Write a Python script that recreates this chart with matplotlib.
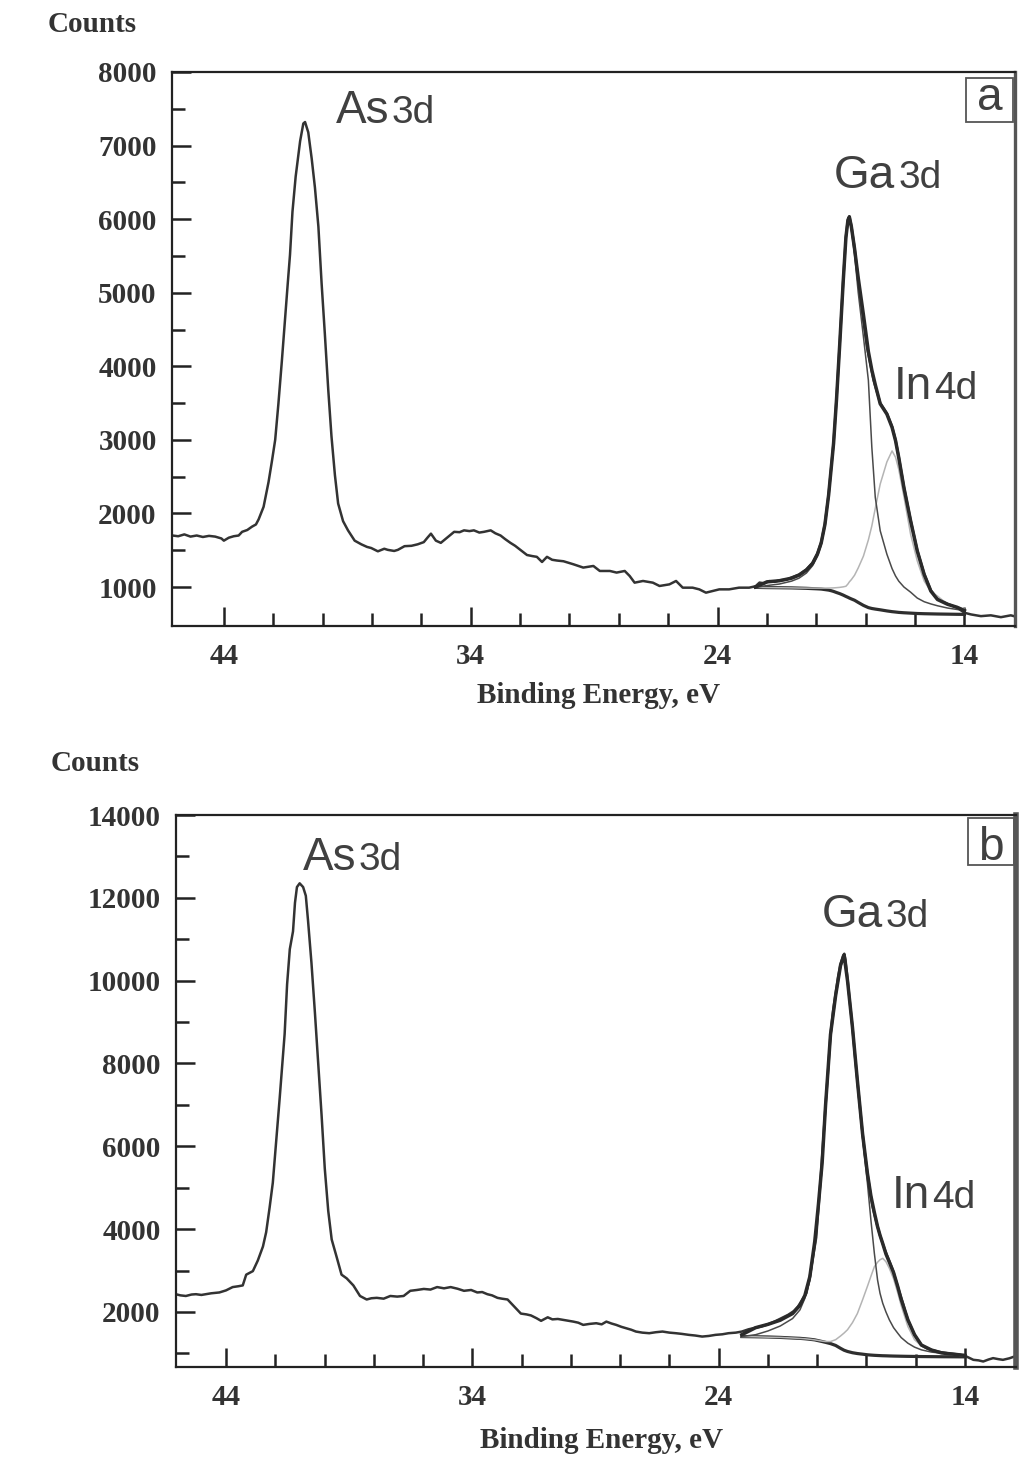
import matplotlib
matplotlib.use("Agg")
import matplotlib.pyplot as plt
from matplotlib.ticker import FixedLocator
from matplotlib.patches import Rectangle

plt.rcParams['font.family'] = ['Liberation Serif', 'DejaVu Serif']
plt.rcParams['font.weight'] = 'bold'

# ---- panel a : measured spectrum (binding energy eV, counts)
a_energy = [46.08, 45.85, 45.6, 45.35, 45.1, 44.85, 44.6, 44.35, 44.1, 44.0, 43.8, 43.6, 43.4, 43.26,
            43.05, 42.86, 42.7, 42.59, 42.39, 42.19, 42.05, 41.92, 41.79, 41.65, 41.52, 41.41, 41.32,
            41.22, 41.09, 40.91, 40.78, 40.71, 40.58, 40.44, 40.31, 40.17, 40.04, 39.91, 39.77, 39.64,
            39.5, 39.37, 39.17, 38.97, 38.7, 38.43, 38.2, 38.03, 37.76, 37.5, 37.36, 37.1, 36.95, 36.68,
            36.4, 36.15, 35.9, 35.74, 35.61, 35.41, 35.21, 34.94, 34.67, 34.45, 34.27, 34.05, 33.87,
            33.65, 33.46, 33.19, 33.0, 32.79, 32.6, 32.39, 32.2, 31.99, 31.72, 31.5, 31.32, 31.11, 30.91,
            30.7, 30.51, 30.24, 29.84, 29.44, 29.03, 28.77, 28.36, 28.09, 27.76, 27.56, 27.36, 27.02,
            26.62, 26.35, 25.95, 25.68, 25.41, 25.01, 24.74, 24.47, 24.2, 23.93, 23.53, 23.13, 22.72,
            22.46, 22.3, 22.1, 21.9, 21.7, 21.5, 21.2, 21.0, 20.7, 20.4, 20.15, 19.95, 19.8, 19.65, 19.5,
            19.4, 19.3, 19.18, 19.05, 18.91, 18.8, 18.72, 18.66, 18.58, 18.45, 18.23, 17.95, 17.68,
            17.41, 17.14, 16.93, 16.79, 16.66, 16.45, 16.18, 15.91, 15.63, 15.36, 15.09, 14.68, 14.3,
            14.0, 13.73, 13.33, 12.93, 12.52, 12.12, 11.95]
a_counts = [1700, 1690, 1715, 1685, 1700, 1680, 1695, 1685, 1660, 1630, 1670, 1690, 1700, 1750,
            1775, 1820, 1850, 1920, 2090, 2425, 2715, 3000, 3490, 4070, 4650, 5130, 5515,
            6100, 6580, 7060, 7300, 7320, 7180, 6820, 6430, 5900, 5130, 4450, 3680, 3050,
            2520, 2135, 1895, 1770, 1630, 1580, 1545, 1530, 1485, 1520, 1505, 1490, 1505, 1555,
            1560, 1580, 1610, 1675, 1725, 1630, 1600, 1675, 1750, 1745, 1770, 1760, 1770,
            1740, 1750, 1770, 1730, 1700, 1650, 1600, 1560, 1505, 1435, 1420, 1410, 1340, 1410,
            1370, 1360, 1350, 1309, 1264, 1286, 1218, 1218, 1196, 1218, 1150, 1059, 1082,
            1059, 1014, 1036, 1082, 991, 991, 968, 923, 945, 968, 968, 991, 991,
            1010, 1060, 1050, 1080, 1070, 1090, 1100, 1130, 1170, 1240, 1330, 1460, 1610, 1860, 2260,
            2610, 2960, 3560, 4310, 5160, 5760, 6000, 6040, 5910, 5610, 4960, 4270, 3810,
            3500, 3360, 3180, 3000, 2770, 2360, 1910, 1500, 1180, 955, 840, 770, 720,
            650, 627, 604, 615, 590, 615, 600]

# panel a : fit curves
a_fit_energy = [22.46, 22.0, 21.5, 21.0, 20.7, 20.4, 20.15, 19.95, 19.8, 19.65, 19.5, 19.4, 19.3,
                19.18, 19.05, 18.91, 18.8, 18.72, 18.66, 18.58, 18.45, 18.3, 18.09, 17.89, 17.75,
                17.61, 17.41, 17.14, 16.93, 16.79, 16.66, 16.45, 16.18, 15.91, 15.63, 15.36, 15.09,
                14.68, 14.3, 14.0]
a_envelope = [1000, 1070, 1085, 1120, 1160, 1230, 1320, 1450, 1600, 1850, 2250, 2600, 2950,
              3550, 4300, 5150, 5750, 5980, 6030, 5900, 5600, 5200, 4700, 4200, 3950,
              3750, 3490, 3350, 3170, 2990, 2760, 2350, 1900, 1490, 1170, 945, 830,
              765, 725, 680]
a_ga = [995, 1020, 1040, 1080, 1120, 1190, 1290, 1420, 1570, 1820, 2220, 2570, 2930,
        3520, 4270, 5120, 5720, 5950, 5990, 5860, 5520, 5000, 4400, 3810, 2900,
        2218, 1764, 1446, 1250, 1150, 1080, 1000, 930, 850, 800, 770, 745,
        714, 695, 680]
a_in = [995, 992, 990, 988, 986, 985, 985, 985, 985, 985, 986, 987, 988,
        991, 995, 1002, 1010, 1040, 1070, 1100, 1160, 1260, 1420, 1640, 1830,
        2070, 2400, 2700, 2850, 2764, 2600, 2230, 1718, 1355, 1082, 940, 877,
        764, 730, 700]
a_bkg = [995, 992, 990, 988, 985, 982, 978, 975, 972, 965, 958, 950, 940,
         925, 910, 890, 872, 860, 850, 838, 820, 790, 750, 720, 708,
         700, 690, 675, 665, 660, 655, 650, 645, 640, 637, 635, 633,
         631, 629, 628]

# ---- panel b : measured spectrum
b_energy = [46.04, 45.85, 45.63, 45.4, 45.22, 45.0, 44.82, 44.6, 44.27, 44.0, 43.73, 43.5, 43.32,
            43.18, 42.91, 42.71, 42.5, 42.37, 42.23, 42.1, 41.96, 41.82, 41.71, 41.62, 41.52, 41.41,
            41.28, 41.2, 41.12, 41.01, 40.87, 40.76, 40.67, 40.53, 40.39, 40.26, 40.12, 39.99, 39.85,
            39.71, 39.51, 39.31, 39.1, 38.83, 38.56, 38.29, 38.1, 37.88, 37.6, 37.33, 37.05, 36.79,
            36.52, 36.25, 35.97, 35.7, 35.43, 35.15, 34.88, 34.6, 34.34, 34.05, 33.8, 33.6, 33.39,
            33.2, 32.98, 32.8, 32.57, 32.3, 32.03, 31.8, 31.62, 31.4, 31.21, 30.94, 30.75, 30.53,
            30.31, 30.12, 29.9, 29.7, 29.5, 29.25, 28.97, 28.75, 28.56, 28.35, 28.16, 27.95, 27.76,
            27.55, 27.36, 27.1, 26.82, 26.55, 26.28, 26.0, 25.74, 25.5, 25.21, 24.95, 24.67, 24.4,
            24.13, 23.85, 23.6, 23.3, 23.06, 22.79, 22.5, 22.26, 22.0, 21.72, 21.45, 21.18, 20.95,
            20.78, 20.6, 20.44, 20.3, 20.15, 20.04, 19.95, 19.85, 19.75, 19.66, 19.55, 19.46, 19.35,
            19.25, 19.15, 19.05, 18.95, 18.9, 18.85, 18.77, 18.67, 18.57, 18.47, 18.37, 18.26, 18.16,
            18.06, 17.96, 17.85, 17.75, 17.65, 17.55, 17.45, 17.34, 17.24, 17.14, 17.03, 16.93, 16.83,
            16.73, 16.62, 16.52, 16.42, 16.32, 16.18, 16.05, 15.9, 15.77, 15.55, 15.36, 15.0, 14.68,
            14.3, 14.0, 13.66, 13.45, 13.26, 13.05, 12.86, 12.65, 12.46, 12.2, 11.99]
b_counts = [2428, 2400, 2385, 2420, 2428, 2410, 2428, 2450, 2470, 2520, 2600, 2620, 2640,
            2900, 2985, 3240, 3580, 3925, 4520, 5120, 6150, 7170, 8030, 8710, 9910, 10760,
            11190, 11880, 12260, 12350, 12260, 12050, 11450, 10420, 9220, 8030, 6750, 5460, 4440,
            3750, 3330, 2900, 2810, 2640, 2385, 2300, 2330, 2340, 2320, 2385, 2370, 2385,
            2510, 2530, 2555, 2540, 2600, 2570, 2600, 2560, 2510, 2530, 2470, 2480, 2428,
            2400, 2340, 2320, 2300, 2130, 1960, 1940, 1915, 1850, 1785, 1870, 1820, 1830,
            1807, 1785, 1766, 1740, 1687, 1710, 1727, 1700, 1766, 1720, 1687, 1640, 1607,
            1570, 1526, 1500, 1486, 1510, 1526, 1500, 1486, 1470, 1446, 1430, 1405, 1420,
            1446, 1460, 1486, 1500, 1526, 1580, 1620, 1650, 1700, 1770, 1850, 1930, 2020,
            2130, 2300, 2450, 2850, 3400, 3800, 4500, 5300, 6200, 7000, 7900, 8700, 9300,
            9700, 10100, 10400, 10600, 10650, 10500, 10050, 9450, 8880, 8200, 7590, 6900, 6310,
            5800, 5340, 4900, 4540, 4290, 4060, 3850, 3650, 3480, 3330, 3170, 3010, 2810,
            2610, 2400, 2210, 2000, 1810, 1620, 1450, 1310, 1200, 1120, 1080, 1030, 1000,
            975, 940, 843, 830, 803, 850, 884, 860, 843, 880, 924]

# panel b : fit curves
b_fit_energy = [23.06, 22.5, 22.0, 21.5, 21.0, 20.7, 20.5, 20.3, 20.1, 19.95, 19.8, 19.66, 19.46,
                19.25, 19.05, 18.91, 18.77, 18.57, 18.37, 18.16, 17.96, 17.82, 17.68, 17.55, 17.45,
                17.34, 17.21, 17.07, 16.9, 16.73, 16.59, 16.32, 16.05, 15.77, 15.36, 14.95, 14.0]
b_envelope = [1450, 1620, 1700, 1800, 1960, 2160, 2400, 2850, 3700, 4600, 5600, 7000, 8700,
              9650, 10380, 10620, 10000, 8880, 7590, 6310, 5340, 4800, 4400, 4060, 3850,
              3650, 3400, 3200, 2950, 2610, 2300, 1810, 1450, 1200, 1080, 1010, 950]
b_ga = [1405, 1450, 1540, 1660, 1840, 2050, 2330, 2750, 3600, 4500, 5500, 6900, 8600,
        9580, 10320, 10560, 9950, 8800, 7500, 6200, 5100, 4217, 3415, 2771, 2450,
        2209, 2000, 1807, 1620, 1486, 1380, 1245, 1150, 1084, 1030, 1004, 940]
b_in = [1405, 1400, 1390, 1385, 1370, 1360, 1352, 1340, 1325, 1310, 1295, 1285, 1285,
        1330, 1420, 1490, 1570, 1740, 1960, 2290, 2620, 2860, 3092, 3200, 3260,
        3294, 3213, 3050, 2800, 2460, 2150, 1650, 1330, 1180, 1080, 1004, 935]
b_bkg = [1405, 1400, 1395, 1385, 1370, 1362, 1352, 1340, 1325, 1305, 1285, 1265, 1235,
         1190, 1120, 1075, 1045, 1015, 995, 980, 965, 958, 952, 948, 945,
         942, 940, 937, 934, 932, 930, 927, 925, 922, 920, 918, 915]

# peak labels: (element, level, energy, counts)
a_labels = [('As', '3d', 37.31, 7306), ('Ga', '3d', 16.8, 6421), ('In', '4d', 15.33, 3560)]
b_labels = [('As', '3d', 38.72, 12670), ('Ga', '3d', 17.33, 11294), ('In', '4d', 15.43, 4510)]

W, H = 1035, 1481
fig = plt.figure(figsize=(W / 100, H / 100), dpi=100)


def draw_panel(rect, energy, counts, fit_e, env, ga, ind, bkg, labels, letter,
               xlim, ylim, yticks, yminor, right_lw):
    ax = fig.add_axes(rect)
    ax.plot(energy, counts, c='#333333', lw=1.8)
    ax.plot(fit_e, bkg, c='#2e2e2e', lw=2.3)
    ax.plot(fit_e, ind, c='#b4b4b4', lw=1.1)
    ax.plot(fit_e, ga, c='#4a4a4a', lw=1.1)
    ax.plot(fit_e, env, c='#2a2a2a', lw=2.5)

    ax.set_xlim(*xlim)
    ax.set_ylim(*ylim)
    ax.set_xticks([44, 34, 24, 14])
    ax.xaxis.set_minor_locator(FixedLocator([42, 40, 38, 36, 32, 30, 28, 26, 22, 20, 18, 16]))
    ax.set_yticks(yticks)
    ax.yaxis.set_minor_locator(FixedLocator(yminor))
    ax.tick_params(axis='both', which='major', direction='in', length=13.5, width=1.8,
                   color='#222222', labelsize=21, labelcolor='#333333', pad=11)
    ax.tick_params(axis='both', which='minor', direction='in', length=9.5, width=1.8,
                   color='#222222')
    ax.tick_params(axis='x', which='major', pad=12)

    for side in ['left', 'bottom', 'top']:
        ax.spines[side].set_linewidth(1.6)
        ax.spines[side].set_color('#222222')
    ax.spines['right'].set_linewidth(right_lw)
    ax.spines['right'].set_color('#555555')

    for elem, level, x, y in labels:
        ax.text(x, y, elem, ha='right', va='baseline', fontsize=33, color='#404040',
                family='Liberation Sans', fontweight='normal')
        ax.annotate(level, xy=(x, y), xytext=(2, 0), textcoords='offset points',
                    ha='left', va='baseline', fontsize=28, color='#404040',
                    family='Liberation Sans', fontweight='normal')

    # little framed panel letter in the top right corner
    bx0, bx1, by0, by1, ty = letter[1]
    ax.add_patch(Rectangle((bx0, by0), bx1 - bx0, by1 - by0, transform=ax.transAxes,
                           fill=False, ec='#555555', lw=1.3, clip_on=False))
    ax.text((bx0 + bx1) / 2, ty, letter[0], transform=ax.transAxes, ha='center', va='baseline',
            fontsize=33, color='#404040', family='Liberation Sans', fontweight='normal')
    return ax


ax1 = draw_panel([172 / W, 1 - 626 / H, 843 / W, 554 / H],
                 a_energy, a_counts, a_fit_energy, a_envelope, a_ga, a_in, a_bkg, a_labels,
                 ('a', (0.9419, 0.9976, 0.9097, 0.9892, 0.931)),
                 (46.1, 11.95), (470, 8000), list(range(1000, 8001, 1000)),
                 list(range(1500, 8000, 1000)), 2.4)

ax2 = draw_panel([176 / W, 1 - 1367 / H, 840 / W, 552 / H],
                 b_energy, b_counts, b_fit_energy, b_envelope, b_ga, b_in, b_bkg, b_labels,
                 ('b', (0.943, 0.9976, 0.9094, 0.9946, 0.918)),
                 (46.03, 11.93), (670, 14000), list(range(2000, 14001, 2000)),
                 list(range(1000, 14000, 2000)), 4.0)

# axis titles placed like in the paper
fig.text(92 / W, 1 - 24 / H, 'Counts', ha='center', va='center', fontsize=21, color='#333333')
fig.text(95 / W, 1 - 764 / H, 'Counts', ha='center', va='center', fontsize=21, color='#333333')
fig.text(599 / W, 1 - 696 / H, 'Binding Energy, eV', ha='center', va='center', fontsize=21,
         color='#333333')
fig.text(602 / W, 1 - 1440 / H, 'Binding Energy, eV', ha='center', va='center', fontsize=21,
         color='#333333')

fig.savefig('out.png', dpi=100)
